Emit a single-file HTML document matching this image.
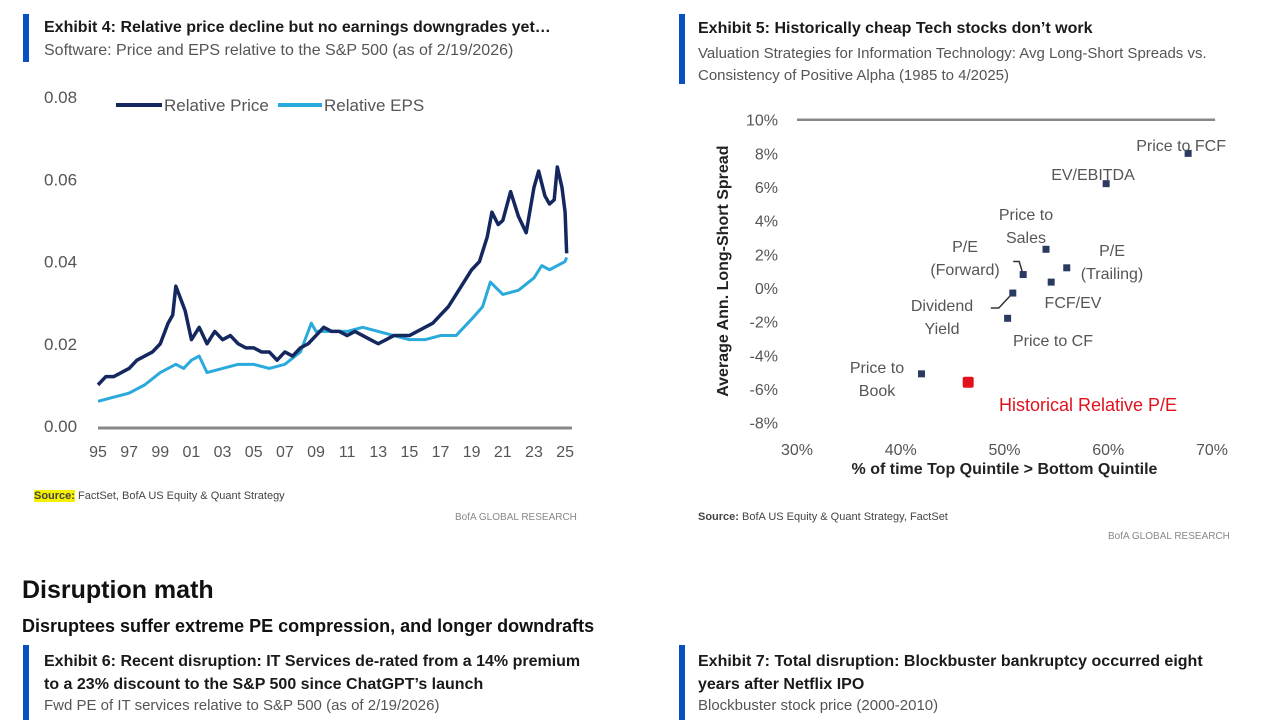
<!DOCTYPE html>
<html><head><meta charset="utf-8"><style>
body{margin:0;width:1280px;height:720px;background:#fff;overflow:hidden;position:relative;font-family:"Liberation Sans Narrow","Liberation Sans",sans-serif;color:#222}
.a{position:absolute;white-space:nowrap}
.bar{position:absolute;background:#0b4fc4;width:6px}
.t{font-weight:bold;font-size:16px;color:#1a1a1a}
.s{font-size:15px;color:#555}
.src{font-size:11px;color:#444}
.bofa{font-size:10px;color:#888}
</style></head><body>
<div class="bar" style="left:23px;top:14px;height:48px"></div>
<div class="a t" style="left:44px;top:19px">Exhibit 4: Relative price decline but no earnings downgrades yet…</div>
<div class="a s" style="left:44px;top:42px;font-size:16px">Software: Price and EPS relative to the S&amp;P 500 (as of 2/19/2026)</div>

<svg class="a" style="left:0;top:80px" width="640" height="400" id="c1"></svg>
<div class="a src" style="left:34px;top:490px"><b style="background:#f5f000">Source:</b> FactSet, BofA US Equity &amp; Quant Strategy</div>
<div class="a bofa" style="left:455px;top:512px">BofA GLOBAL RESEARCH</div>

<div class="bar" style="left:679px;top:14px;height:70px"></div>
<div class="a t" style="left:698px;top:20px">Exhibit 5: Historically cheap Tech stocks don’t work</div>
<div class="a s" style="left:698px;top:43px;line-height:22px">Valuation Strategies for Information Technology: Avg Long-Short Spreads vs.<br>Consistency of Positive Alpha (1985 to 4/2025)</div>

<svg class="a" style="left:690px;top:100px" width="590" height="390" id="c2"></svg>
<div class="a src" style="left:698px;top:511px"><b>Source:</b> BofA US Equity &amp; Quant Strategy, FactSet</div>
<div class="a bofa" style="left:1108px;top:531px">BofA GLOBAL RESEARCH</div>

<div class="a" style="left:22px;top:576px;font-size:25px;font-weight:bold;color:#111;font-family:'Liberation Sans',sans-serif">Disruption math</div>
<div class="a" style="left:22px;top:616px;font-size:18px;font-weight:bold;color:#111">Disruptees suffer extreme PE compression, and longer downdrafts</div>

<div class="bar" style="left:23px;top:645px;height:75px"></div>
<div class="a t" style="left:44px;top:650px;line-height:23px">Exhibit 6: Recent disruption: IT Services de-rated from a 14% premium<br>to a 23% discount to the S&amp;P 500 since ChatGPT’s launch</div>
<div class="a s" style="left:44px;top:697px">Fwd PE of IT services relative to S&amp;P 500 (as of 2/19/2026)</div>

<div class="bar" style="left:679px;top:645px;height:75px"></div>
<div class="a t" style="left:698px;top:650px;line-height:23px">Exhibit 7: Total disruption: Blockbuster bankruptcy occurred eight<br>years after Netflix IPO</div>
<div class="a s" style="left:698px;top:697px">Blockbuster stock price (2000-2010)</div>

<script>
const NS="http://www.w3.org/2000/svg";
function mk(p,tag,at,txt){const e=document.createElementNS(NS,tag);for(const k in at)e.setAttribute(k,at[k]);if(txt!==undefined)e.textContent=txt;p.appendChild(e);return e;}

// ---- Exhibit 4 data ----
const priceYears=[1995,1995.5,1996,1996.5,1997,1997.5,1998,1998.5,1999,1999.5,1999.8,2000,2000.3,2000.6,2001,2001.5,2002,2002.5,2003,2003.5,2004,2004.5,2005,2005.5,2006,2006.5,2007,2007.5,2008,2008.5,2009,2009.5,2010,2010.5,2011,2011.5,2012,2012.5,2013,2013.5,2014,2014.5,2015,2015.5,2016,2016.5,2017,2017.5,2018,2018.5,2019,2019.5,2020,2020.3,2020.7,2021,2021.5,2022,2022.5,2023,2023.3,2023.7,2024,2024.3,2024.5,2024.8,2025,2025.1];
const priceVals=[0.010,0.012,0.012,0.013,0.014,0.016,0.017,0.018,0.020,0.025,0.027,0.034,0.031,0.028,0.021,0.024,0.020,0.023,0.021,0.022,0.020,0.019,0.019,0.018,0.018,0.016,0.018,0.017,0.019,0.020,0.022,0.024,0.023,0.023,0.022,0.023,0.022,0.021,0.020,0.021,0.022,0.022,0.022,0.023,0.024,0.025,0.027,0.029,0.032,0.035,0.038,0.040,0.046,0.052,0.049,0.050,0.057,0.051,0.047,0.058,0.062,0.056,0.054,0.055,0.063,0.058,0.052,0.042];
const epsYears=[1995,1996,1997,1998,1999,2000,2000.5,2001,2001.5,2002,2003,2004,2005,2006,2007,2008,2008.7,2009,2010,2011,2012,2013,2014,2015,2016,2017,2018,2019,2019.7,2020.2,2021,2022,2023,2023.5,2024,2025,2025.1];
const epsVals=[0.006,0.007,0.008,0.010,0.013,0.015,0.014,0.016,0.017,0.013,0.014,0.015,0.015,0.014,0.015,0.018,0.025,0.023,0.023,0.023,0.024,0.023,0.022,0.021,0.021,0.022,0.022,0.026,0.029,0.035,0.032,0.033,0.036,0.039,0.038,0.040,0.041];
const yTicks1=[0,0.02,0.04,0.06,0.08];
const xTickYears=[1995,1997,1999,2001,2003,2005,2007,2009,2011,2013,2015,2017,2019,2021,2023,2025];

(function(){
const s=document.getElementById('c1');
const X=y=>98+(y-1995)*15.57;
const Y=v=>346-v*4112;
yTicks1.forEach(v=>{const t=mk(s,'text',{x:44,y:Y(v)+6,'font-size':17,fill:'#555','font-family':'Liberation Sans, sans-serif'},v.toFixed(2));

});
const ax=mk(s,'line',{x1:98,x2:572,y1:Y(0)+2,y2:Y(0)+2,stroke:'#888','stroke-width':3});


xTickYears.forEach(y=>{const t=mk(s,'text',{x:X(y),y:Y(0)+31,'font-size':16,fill:'#555','text-anchor':'middle','font-family':'Liberation Sans, sans-serif'},String(y).slice(2));

});
const pe=mk(s,'polyline',{points:epsYears.map((y,i)=>X(y)+','+Y(epsVals[i])).join(' '),fill:'none',stroke:'#29a9dc','stroke-width':3,'stroke-linejoin':'round'});


const pp=mk(s,'polyline',{points:priceYears.map((y,i)=>X(y)+','+Y(priceVals[i])).join(' '),fill:'none',stroke:'#14275e','stroke-width':3.5,'stroke-linejoin':'round'});


const g1=mk(s,'g',{});


mk(g1,'line',{x1:116,x2:162,y1:25,y2:25,stroke:'#14275e','stroke-width':4});
mk(g1,'text',{x:164,y:31,'font-size':17,fill:'#555'},'Relative Price');
const g2=mk(s,'g',{});


mk(g2,'line',{x1:278,x2:322,y1:25,y2:25,stroke:'#29a9dc','stroke-width':4});
mk(g2,'text',{x:324,y:31,'font-size':17,fill:'#555'},'Relative EPS');
})();

// ---- Exhibit 5 data ----
const ptNames=['Price to FCF','EV/EBITDA','Price to Sales','P/E (Forward)','P/E (Trailing)','FCF/EV','Dividend Yield','Price to CF','Price to Book','Historical Relative P/E'];
const ptX=[67.7,59.8,54.0,51.8,56.0,54.5,50.8,50.3,42.0,46.5];
const ptY=[8.0,6.2,2.3,0.8,1.2,0.35,-0.3,-1.8,-5.1,-5.6];
const yTicks2=[10,8,6,4,2,0,-2,-4,-6,-8];
const xTicks2=[30,40,50,60,70];

(function(){
const s=document.getElementById('c2');
const X=p=>797-690+(p-30)*10.375;
const Y=v=>288-100-v*16.83;
yTicks2.forEach(v=>{const t=mk(s,'text',{x:88,y:Y(v)+6,'font-size':16,fill:'#555','text-anchor':'end'},v+'%');

});
xTicks2.forEach(v=>{const t=mk(s,'text',{x:X(v),y:355,'font-size':16,fill:'#555','text-anchor':'middle'},v+'%');

});
const gl=mk(s,'line',{x1:X(30),x2:X(70.3),y1:Y(10),y2:Y(10),stroke:'#888','stroke-width':2.5});


const xt=mk(s,'text',{x:X(50),y:374,'font-size':16,'font-weight':'bold',fill:'#222','text-anchor':'middle'},'% of time Top Quintile > Bottom Quintile');


const yt=mk(s,'text',{x:0,y:0,'font-size':16,'font-weight':'bold',fill:'#222','text-anchor':'middle',transform:`translate(38,${Y(1)}) rotate(-90)`},'Average Ann. Long-Short Spread');


mk(s,'path',{d:`M${X(51.8)-10},${Y(0.8)-13} h6 l4,13`,stroke:'#333',fill:'none','stroke-width':1.5});
mk(s,'path',{d:`M${X(50.8)-22},${Y(-0.3)+15} h8 l14,-15`,stroke:'#333',fill:'none','stroke-width':1.5});
const labels=[['Price to FCF',1226-690,145,'end'],['EV/EBITDA',1093-690,174,'middle'],['Price to\nSales',1026-690,214,'middle'],['P/E\n(Forward)',965-690,246,'middle'],['P/E\n(Trailing)',1112-690,250,'middle'],['FCF/EV',1073-690,302,'middle'],['Dividend\nYield',942-690,305,'middle'],['Price to CF',1053-690,340,'middle'],['Price to\nBook',877-690,367,'middle'],['Historical Relative P/E',1088-690,405,'middle']];
ptNames.forEach((n,i)=>{const red=i===ptNames.length-1;const sz=red?11:7;
const r=mk(s,'rect',{x:X(ptX[i])-sz/2,y:Y(ptY[i])-sz/2,width:sz,height:sz,fill:red?'#e3101d':'#2b3a60',rx:red?2:0});


const L=labels[i];const t=mk(s,'text',{x:L[1],y:L[2]-100+6,'font-size':red?18:16,fill:red?'#e3101d':'#555','text-anchor':L[3]});


L[0].split('\n').forEach((ln,j)=>mk(t,'tspan',{x:L[1],dy:j?23:0},ln));});
})();
</script>
</body></html>
